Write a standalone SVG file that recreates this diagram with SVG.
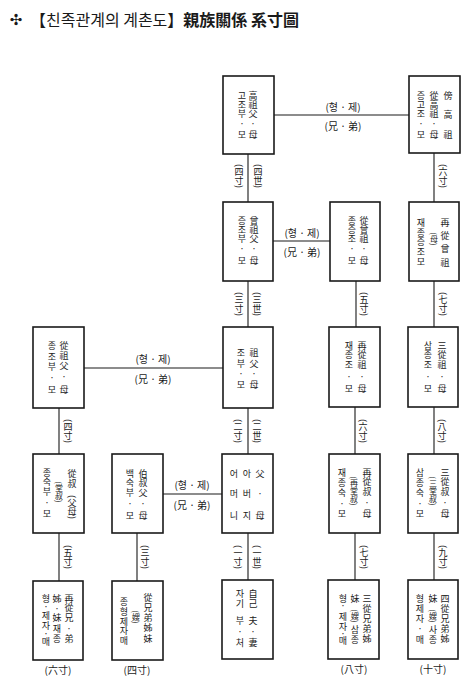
<svg xmlns="http://www.w3.org/2000/svg" width="474" height="697" viewBox="0 0 474 697">
<style>
.b{fill:#fff;stroke:#1a1a1a;stroke-width:1.6}
.l{stroke:#1a1a1a;stroke-width:1.1;fill:none}
.t{font-family:"Noto Sans CJK KR","Noto Sans CJK SC",sans-serif;font-size:9px;text-anchor:middle;dominant-baseline:central;fill:#1a1a1a}
.v{font-family:"Noto Sans CJK KR","Noto Sans CJK SC",sans-serif;font-size:9px;writing-mode:vertical-rl;text-anchor:middle;fill:#1a1a1a}
.s{font-size:8px}
.h{font-family:"Noto Sans CJK KR","Noto Sans CJK SC",sans-serif;font-size:10px;text-anchor:middle;dominant-baseline:central;fill:#1a1a1a}
.ti{font-family:"Noto Sans CJK KR","Noto Sans CJK SC",sans-serif;font-size:16px;fill:#1a1a1a}
</style>
<rect width="474" height="697" fill="#fff"/>
<g id="title">
<text x="16" y="20" style="font-family:'DejaVu Sans',sans-serif;font-size:15px;text-anchor:middle;dominant-baseline:central;fill:#1a1a1a">✣</text>
<text x="30" y="26" class="ti">【친족관계의 계촌도】<tspan font-weight="bold">親族關係 系寸圖</tspan></text>
</g>
<g id="connectors">
<path class="l" d="M274 115H409M273 241H330M84 368H223M163 494H222"/>
<path class="l" d="M248 154V202M248 281V327M248 408V454M248 533V580"/>
<path class="l" d="M434 153V202M434 281V327M434 407V454M434 533V580"/>
<path class="l" d="M356 281V327M355 407V454M355 533V580"/>
<path class="l" d="M59 408V454M59 533V581M137 533V581"/>
<text class="h" x="343" y="106">(형 · 제)</text>
<text class="h" x="343" y="125">(兄 · 弟)</text>
<text class="h" x="302" y="232">(형 · 제)</text>
<text class="h" x="302" y="251">(兄 · 弟)</text>
<text class="h" x="153" y="358">(형 · 제)</text>
<text class="h" x="153" y="378">(兄 · 弟)</text>
<text class="h" x="192" y="484">(형 · 제)</text>
<text class="h" x="192" y="504">(兄 · 弟)</text>
<text class="v" x="239" y="176">(四寸)</text>
<text class="v" x="258" y="176">(四世)</text>
<text class="v" x="443" y="176">(六寸)</text>
<text class="v" x="239" y="304">(三寸)</text>
<text class="v" x="257" y="304">(三世)</text>
<text class="v" x="364" y="304">(五寸)</text>
<text class="v" x="443" y="304">(七寸)</text>
<text class="v" x="68" y="431">(四寸)</text>
<text class="v" x="238" y="431">(二寸)</text>
<text class="v" x="257" y="431">(二世)</text>
<text class="v" x="363" y="431">(六寸)</text>
<text class="v" x="442" y="431">(八寸)</text>
<text class="v" x="68" y="557">(五寸)</text>
<text class="v" x="145" y="557">(三寸)</text>
<text class="v" x="238" y="557">(一寸)</text>
<text class="v" x="257" y="557">(一世)</text>
<text class="v" x="364" y="557">(七寸)</text>
<text class="v" x="443" y="557">(九寸)</text>
</g>
<g id="n-gojobu">
<rect class="b" x="223" y="76" width="51" height="78"/>
<text class="t" x="253 253 253 253 253" y="95 104 113 123 134">高祖父·母</text>
<text class="t" x="242 242 242 242 242" y="95 104 113 123 134">고조부·모</text>
</g>
<g id="n-banggojo">
<rect class="b" x="409" y="76" width="51" height="77"/>
<text class="t" x="448 448 448" y="95 114 134">傍高祖</text>
<text class="t" x="434 434 434 434 434" y="95 104 113 123 134">從高祖·母</text>
<text class="t" x="421 421 421 421 421" y="95 104 113 123 134">증고조·모</text>
</g>
<g id="n-jeungjobu">
<rect class="b" x="223" y="202" width="50" height="79"/>
<text class="t" x="254 254 254 254 254" y="220 229 238 248 260">曾祖父·母</text>
<text class="t" x="242 242 242 242 242" y="220 229 238 248 260">증조부·모</text>
</g>
<g id="n-jongjeungjo">
<rect class="b" x="330" y="202" width="50" height="79"/>
<text class="t" x="364 364 364 364 364" y="220 229 238 248 260">從曾祖·母</text>
<text class="t" x="352 352 352 352 352" y="220 229 238 248 260">종증조·모</text>
</g>
<g id="n-jaejongjeungjo">
<rect class="b" x="409" y="202" width="50" height="79"/>
<text class="t" x="445 445 445 445" y="222 235 248 262">再從曾祖</text>
<text class="v s" x="434" y="239">(母)</text>
<text class="t" x="421 421 421 421 421" y="222 232 241 251 261">재종증조모</text>
</g>
<g id="n-jongjobu">
<rect class="b" x="33" y="327" width="51" height="81"/>
<text class="t" x="64 64 64 64 64" y="345 355 365 376 389">從祖父·母</text>
<text class="t" x="52 52 52 52 52" y="345 356 366 377 389">종조부·모</text>
</g>
<g id="n-jobu">
<rect class="b" x="223" y="327" width="50" height="81"/>
<text class="t" x="254 254 254 254" y="352 363 373 384">祖父·母</text>
<text class="t" x="241 241 241 241" y="352 363 373 384">조부·모</text>
</g>
<g id="n-jaejongjo">
<rect class="b" x="329" y="327" width="51" height="80"/>
<text class="t" x="362 362 362 362 362" y="345 354 364 376 388">再從祖·母</text>
<text class="t" x="349 349 349 349 349" y="345 354 364 376 388">재종조·모</text>
</g>
<g id="n-samjongjo">
<rect class="b" x="408" y="327" width="50" height="80"/>
<text class="t" x="442 442 442 442 442" y="345 354 364 376 388">三從祖·母</text>
<text class="t" x="428 428 428 428 428" y="345 354 364 376 388">삼종조·모</text>
</g>
<g id="n-jongsukbu">
<rect class="b" x="33" y="454" width="51" height="79"/>
<text class="t" x="72 72" y="473 483">從叔</text>
<text class="v" x="72" y="507">(父母)</text>
<text class="v s" x="59" y="492">(堂叔)</text>
<text class="t" x="47 47 47 47 47" y="472 481 491 502 513">종숙부·모</text>
</g>
<g id="n-baeksukbu">
<rect class="b" x="112" y="454" width="51" height="79"/>
<text class="t" x="143 143 143 143 143" y="473 482 492 503 515">伯叔父·母</text>
<text class="t" x="130 130 130 130 130" y="473 482 492 503 515">백숙부·모</text>
</g>
<g id="n-bumo">
<rect class="b" x="222" y="454" width="51" height="79"/>
<text class="t" x="234 234 234" y="473 493 515">어머니</text>
<text class="t" x="247 247 247" y="473 493 515">아버지</text>
<text class="t" x="260 260 260" y="473 493 515">父·母</text>
</g>
<g id="n-jaejongsuk">
<rect class="b" x="329" y="454" width="51" height="79"/>
<text class="t" x="367 367 367 367 367" y="472 481 491 502 513">再從叔·母</text>
<text class="v s" x="354" y="491">(再堂叔)</text>
<text class="t" x="342 342 342 342 342" y="472 482 492 503 513">재종숙·모</text>
</g>
<g id="n-samjongsuk">
<rect class="b" x="408" y="454" width="50" height="79"/>
<text class="t" x="445 445 445 445 445" y="472 481 491 502 513">三從叔·母</text>
<text class="v s" x="433" y="491">(三堂叔)</text>
<text class="t" x="420 420 420 420 420" y="472 482 492 503 513">삼종숙·모</text>
</g>
<g id="n-jaejonghyeongje">
<rect class="b" x="33" y="581" width="50" height="79"/>
<text class="t" x="69 69 69 69 69" y="598 607 617 628 638">再從兄·弟</text>
<text class="t" x="57 57 57 57 57" y="598 608 617 628 638">姊·妹재종</text>
<text class="t" x="46 46 46 46 46 46" y="598 606 615 625 633 641">형·제자·매</text>
<text class="h" x="58" y="669">(六寸)</text>
</g>
<g id="n-jonghyeongje">
<rect class="b" x="112" y="581" width="51" height="79"/>
<text class="t" x="148 148 148 148 148" y="597 607 617 627 638">從兄弟姊妹</text>
<text class="v s" x="136" y="617">(嫂)</text>
<text class="t" x="124 124 124 124 124" y="601 611 621 630 640">종형제자매</text>
<text class="h" x="137" y="669">(四寸)</text>
</g>
<g id="n-jagi">
<rect class="b" x="222" y="580" width="51" height="79"/>
<text class="t" x="253 253 253 253 253" y="593 603 620 631 642">自己夫·妻</text>
<text class="t" x="240 240 240 240 240" y="593 603 620 631 642">자기부·처</text>
</g>
<g id="n-samjonghyeongje">
<rect class="b" x="328" y="580" width="51" height="79"/>
<text class="t" x="367 367 367 367 367" y="598 608 618 628 638">三從兄弟姊</text>
<text class="t" x="355" y="598">妹</text>
<text class="v s" x="355" y="616">(嫂)</text>
<text class="t" x="355 355" y="629 639">삼종</text>
<text class="t" x="343 343 343 343 343 343" y="598 605 616 626 633 640">형·제자·매</text>
<text class="h" x="354" y="668">(八寸)</text>
</g>
<g id="n-sajonghyeongje">
<rect class="b" x="408" y="580" width="50" height="79"/>
<text class="t" x="445 445 445 445 445" y="598 608 618 628 638">四從兄弟姊</text>
<text class="t" x="433" y="598">妹</text>
<text class="v s" x="433" y="616">(嫂)</text>
<text class="t" x="433 433" y="629 639">사종</text>
<text class="t" x="420 420 420 420 420" y="598 608 618 628 639">형제자·매</text>
<text class="h" x="433" y="668">(十寸)</text>
</g>
</svg>
